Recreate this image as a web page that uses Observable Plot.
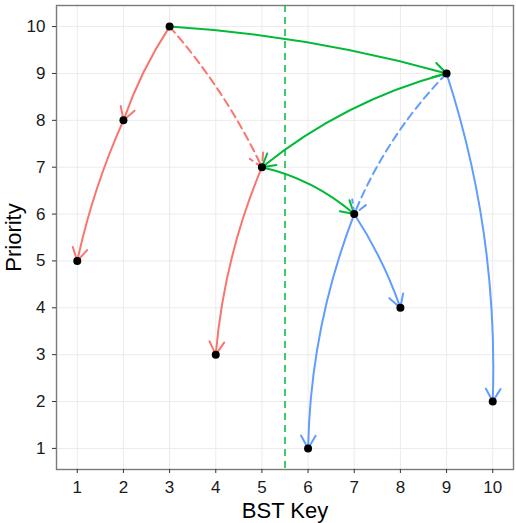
<!DOCTYPE html>
<html>
<head>
<meta charset="utf-8">
<script src="https://cdn.jsdelivr.net/npm/d3@7"></script>
<script src="https://cdn.jsdelivr.net/npm/@observablehq/plot@0.6"></script>
<style>
  html, body { margin: 0; padding: 0; background: #fff; }
</style>
</head>
<body>
<div id="grafico"></div>
<script>
// Nodos del treap: clave BST y prioridad (heap)
const claves = [1, 2, 3, 4, 5, 6, 7, 8, 9, 10];
const prioridades = [5, 8, 10, 3, 7, 1, 6, 4, 9, 2];

// Aristas: clave origen -> clave destino, grupo de color y tipo de trazo
const desde = [3, 2, 3, 5, 3, 9, 5, 9, 9, 7, 7];
const hasta = [2, 1, 5, 4, 9, 5, 7, 7, 10, 6, 8];
const grupo = ["izq", "izq", "izq", "izq", "camino", "camino", "camino", "der", "der", "der", "der"];
const trazo = ["solido", "solido", "discontinuo", "solido", "solido", "solido", "solido", "discontinuo", "solido", "solido", "solido"];

// Línea de corte y marcas de los ejes
const corte = [5.5];
const ticksX = [1, 2, 3, 4, 5, 6, 7, 8, 9, 10];
const ticksY = [1, 2, 3, 4, 5, 6, 7, 8, 9, 10];

const prioridad = (k) => prioridades[claves.indexOf(k)];
const nodos = claves.map((k, i) => ({ clave: k, prioridad: prioridades[i] }));
const aristas = desde.map((d, i) => ({
  x1: d, y1: prioridad(d), x2: hasta[i], y2: prioridad(hasta[i]),
  grupo: grupo[i], trazo: trazo[i],
}));

// curvatura aproximada de cada arco (grados), leída a ojo
const curvas = { "3-2": 7, "2-1": 6, "3-5": 8, "5-4": 9, "3-9": 6, "9-5": 12, "5-7": 14, "9-7": 11, "9-10": 10, "7-6": 10, "7-8": 7 };

const fuente = "'Liberation Sans', Arial, Helvetica, sans-serif";

const flechas = aristas.map((a) => Plot.arrow([a], {
  x1: "x1", y1: "y1", x2: "x2", y2: "y2",
  stroke: "grupo", strokeWidth: 2,
  strokeDasharray: a.trazo === "discontinuo" ? "8 5" : null,
  bend: (a.x2 > a.x1 ? 1 : -1) * (curvas[a.x1 + "-" + a.x2] || 10),
  headLength: 11, headAngle: 60,
}));

const grafico = Plot.plot({
  width: 516,
  height: 523,
  marginLeft: 56,
  marginRight: 3,
  marginTop: 5,
  marginBottom: 54,
  style: { background: "#fff", fontFamily: fuente, color: "#222" },
  x: { domain: [0.55, 10.45] },
  y: { domain: [0.55, 10.45] },
  color: { domain: ["izq", "camino", "der"], range: ["#F8766D", "#00BA38", "#619CFF"] },
  marks: [
    Plot.gridX(ticksX, { stroke: "#ebebeb", strokeOpacity: 1, strokeWidth: 1 }),
    Plot.gridY(ticksY, { stroke: "#ebebeb", strokeOpacity: 1, strokeWidth: 1 }),
    Plot.ruleX(corte, { stroke: "#00BA38", strokeWidth: 1.5, strokeDasharray: "7 5" }),
    ...flechas,
    Plot.dot(nodos, { x: "clave", y: "prioridad", r: 4, fill: "black", stroke: null }),
    Plot.frame({ stroke: "#7a7a7a", strokeWidth: 1.4 }),
    Plot.axisX(ticksX, { tickSize: 4, tickPadding: 7, fontSize: 17, label: null, stroke: "#333", fill: "#1a1a1a" }),
    Plot.axisY(ticksY, { tickSize: 4, tickPadding: 7, fontSize: 17, label: null, stroke: "#333", fill: "#1a1a1a" }),
    Plot.text(["BST Key"], { frameAnchor: "bottom", lineAnchor: "middle", dy: 41, fontSize: 22, fill: "#000", text: (d) => d }),
    Plot.text(["Priority"], { frameAnchor: "left", textAnchor: "middle", lineAnchor: "middle", dx: -43, rotate: -90, fontSize: 22, fill: "#000", text: (d) => d }),
  ],
});

document.getElementById("grafico").appendChild(grafico);
</script>
</body>
</html>
